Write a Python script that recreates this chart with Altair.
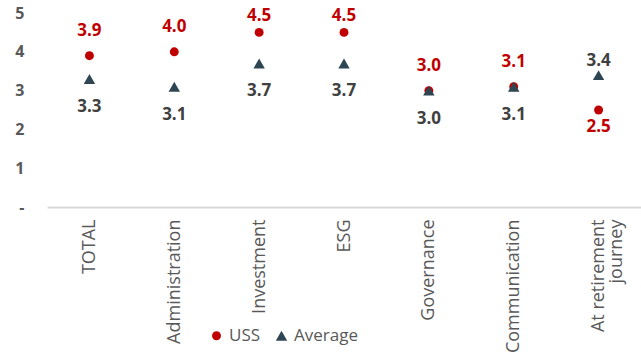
import altair as alt
import pandas as pd

categories = ["TOTAL", "Administration", "Investment", "ESG", "Governance", "Communication", "At retirement journey"]
uss = [3.9, 4.0, 4.5, 4.5, 3.0, 3.1, 2.5]
average = [3.3, 3.1, 3.7, 3.7, 3.0, 3.1, 3.4]
series = ["USS", "Average"]

rows = []
for c, u, a in zip(categories, uss, average):
    rows.append({"cat": c, "series": "USS", "value": u, "other": a})
    rows.append({"cat": c, "series": "Average", "value": a, "other": u})
df = pd.DataFrame(rows)

RED = "#C00000"
SLATE = "#2E4553"
GREY = "#404040"
PX = 194 / 5  # pixels per unit

base = alt.Chart(df)
xscale = alt.Scale(paddingInner=0, paddingOuter=0)
xaxis = alt.Axis(labelAngle=-90, ticks=False, domainColor="#D9D9D9", domainWidth=2,
                 labelFont="Open Sans", labelFontSize=18, labelFontWeight=500,
                 labelColor="#595959", labelLineHeight=18,
                 labelPadding=12, labelBaseline="middle", labelOverlap=False,
                 labelLimit=200,
                 labelExpr="datum.label == 'At retirement journey' ? ['At retirement', 'journey'] : datum.label")
yscale = alt.Scale(domain=[0, 5], nice=False)
yaxis = alt.Axis(values=[0, 1, 2, 3, 4, 5], grid=False, domain=False, ticks=False,
                 labelFont="Open Sans", labelFontSize=16, labelFontWeight="bold",
                 labelColor="#595959", labelPadding=23, labelOverlap=False,
                 labelExpr="datum.value == 0 ? '-' : datum.label")

def X():
    return alt.X("cat:N", sort=categories, title=None, scale=xscale, axis=xaxis)

points = base.mark_point(filled=True, opacity=1).encode(
    x=X(), y=alt.Y("value:Q", title=None, scale=yscale, axis=yaxis),
    color=alt.Color("series:N", scale=alt.Scale(domain=series, range=[RED, SLATE]),
                    legend=alt.Legend(title=None, orient="none", direction="horizontal",
                                      legendX=161, legendY=314,
                                      labelFont="Open Sans",
                                      labelFontSize=17, labelColor="#595959", symbolSize=70,
                                      columnPadding=12, labelOffset=4)),
    shape=alt.Shape("series:N", scale=alt.Scale(domain=series, range=["circle", "triangle-up"])),
    size=alt.Size("series:N", scale=alt.Scale(domain=series, range=[80, 130]), legend=None),
    order=alt.Order("series:N", sort="descending"),
)

def lbl(ser, above, off, color):
    cond = "datum.value >= datum.other" if ser == "USS" else "datum.value > datum.other"
    if not above:
        cond = "!(" + cond + ")"
    sign = 1 if above else -1
    return base.transform_filter(f"datum.series == '{ser}'").transform_filter(cond).transform_calculate(
        ly=f"min(datum.value + {sign * off / PX}, 4.92)"
    ).mark_text(
        font="Open Sans", fontSize=17, fontWeight="bold", color=color, baseline="middle"
    ).encode(x=X(),
             y=alt.Y("ly:Q", title=None, scale=yscale, axis=yaxis),
             text=alt.Text("value:Q", format=".1f"))

labels = [
    lbl("USS", True, 25, RED),
    lbl("USS", False, 17, RED),
    lbl("Average", True, 14, GREY),
    lbl("Average", False, 28, GREY),
]

chart = alt.layer(points, *labels).properties(
    width=594, height=194,
    autosize=alt.AutoSizeParams(type="none"),
    padding={"left": 47, "top": 13, "right": 0, "bottom": 148},
    background="white",
).configure_view(stroke=None)

chart.save("out.html", embed_options={"renderer": "svg", "actions": False})
